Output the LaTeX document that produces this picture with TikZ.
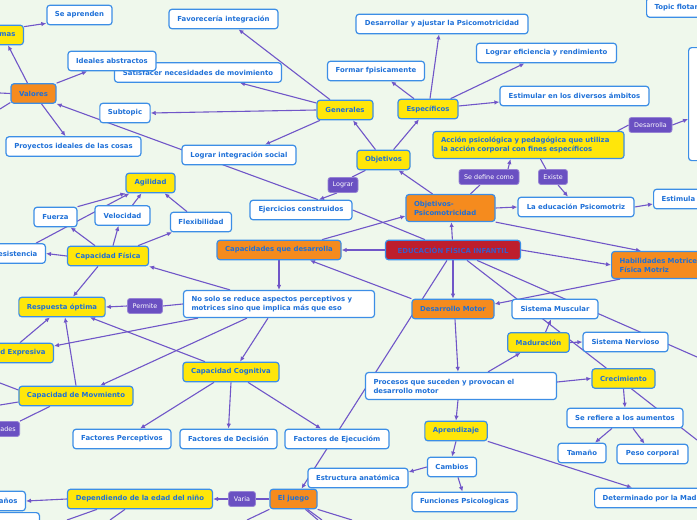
\documentclass[tikz,border=0pt]{standalone}
\usepackage{fontspec}
\setmainfont{DejaVu Sans}
\usetikzlibrary{arrows.meta}
\definecolor{mm_bg}{RGB}{239,248,236}
\definecolor{mm_blue}{RGB}{30,112,216}
\definecolor{mm_line}{RGB}{60,142,230}
\definecolor{mm_yellow}{RGB}{255,230,10}
\definecolor{mm_orange}{RGB}{245,139,30}
\definecolor{mm_red}{RGB}{190,30,45}
\definecolor{mm_redtext}{RGB}{58,90,200}
\definecolor{mm_purple}{RGB}{106,80,194}
\definecolor{mm_edge}{RGB}{112,86,200}
\pgfdeclarelayer{edgelayer}
\pgfsetlayers{edgelayer,main}
\tikzstyle{wn}=[rectangle,rounded corners=3pt,fill=white,draw=mm_line,line width=1.2pt,
  text=mm_blue,font=\fontsize{6.9}{9}\selectfont\bfseries,inner xsep=8pt,inner ysep=5pt,minimum height=19.5pt]
\tikzstyle{yn}=[wn,fill=mm_yellow]
\tikzstyle{orn}=[wn,fill=mm_orange]
\tikzstyle{cn}=[wn,fill=mm_red,text=mm_redtext]
\tikzstyle{pn}=[rectangle,rounded corners=2.5pt,fill=mm_purple,draw=mm_purple!70!white,line width=0.8pt,
  text=white,font=\fontsize{6.4}{8}\selectfont,inner xsep=4pt,inner ysep=2pt,minimum height=15pt]
\tikzstyle{none}=[]
\tikzstyle{arr}=[draw=mm_edge,line width=1.1pt,-{Latex[length=5pt,width=4.5pt]}]
\tikzstyle{ln}=[draw=mm_edge,line width=1.1pt]

\begin{document}
\begin{tikzpicture}[x=1pt,y=-1pt]
            \useasboundingbox (0,0) rectangle (697,520);
            \node [style=cn, minimum width=135pt] (0) at (453,250) {EDUCACIÓN FÍSICA INFANTIL};
            \node [style=orn, text width=73pt, align=left, minimum height=27pt] (1) at (450.5,208) {Objetivos-\\Psicomotricidad};
            \node [style=yn, minimum width=53pt] (2) at (383.5,160) {Objetivos};
            \node [style=yn, minimum width=56pt] (3) at (345,110) {Generales};
            \node [style=yn, minimum width=60pt] (4) at (428,109) {Específicos};
            \node [style=wn, minimum width=109pt] (5) at (223.5,19) {Favorecería integración};
            \node [style=wn, minimum width=167pt] (6) at (198,72.5) {Satisfacer necesidades de movimiento};
            \node [style=wn, minimum width=50pt] (7) at (125,113) {Subtopic};
            \node [style=wn, minimum width=114pt] (8) at (239,155) {Lograr integración social};
            \node [style=wn, minimum width=97pt] (9) at (376,71) {Formar fpisicamente};
            \node [style=wn, minimum width=172pt] (10) at (442,24) {Desarrollar y ajustar la Psicomotricidad};
            \node [style=wn, minimum width=140pt] (11) at (546.5,53) {Lograr eficiencia y rendimiento};
            \node [style=wn, minimum width=149pt] (12) at (574.5,96) {Estimular en los diversos ámbitos};
            \node [style=yn, text width=175pt, align=left, minimum height=27pt] (13) at (528.5,145) {Acción psicológica y pedagógica que utiliza\\la acción corporal con fines específicos};
            \node [style=wn, minimum width=116pt] (14) at (576,207) {La educación Psicomotriz};
            \node [style=wn, text width=64pt, align=left, anchor=west] (15) at (653,199) {Estimula};
            \node [style=wn, minimum width=60pt, minimum height=113pt, anchor=north west] (16) at (688,47) {};
            \node [style=wn, text width=70pt, align=left, anchor=west] (17) at (646,7.5) {Topic flotante};
            \node [style=orn, text width=100pt, align=left, minimum height=27pt, anchor=west] (18) at (611,265) {Habilidades Motrices\\Física Motriz};
            \node [style=orn, minimum width=124pt] (19) at (279,250) {Capacidades que desarrolla};
            \node [style=wn, minimum width=102pt] (20) at (301,210) {Ejercicios construidos};
            \node [style=orn, minimum width=45pt] (21) at (33.5,93.5) {Valores};
            \node [style=yn, text width=50pt, align=right, anchor=east] (22) at (24,35) {mas};
            \node [style=wn, minimum width=65pt] (23) at (79.5,15) {Se aprenden};
            \node [style=wn, minimum width=88pt] (24) at (112,61) {Ideales abstractos};
            \node [style=wn, minimum width=135pt] (25) at (73.5,146.5) {Proyectos ideales de las cosas};
            \node [style=wn, text width=175pt, align=left, minimum height=27pt] (26) at (279,304) {No solo se reduce aspectos perceptivos y\\motrices sino que implica más que eso};
            \node [style=yn, minimum width=86pt] (27) at (62,307) {Respuesta óptima};
            \node [style=yn, minimum width=80pt] (28) at (108,256) {Capacidad Física};
            \node [style=wn, anchor=east] (29) at (46,253.5) {Resistencia};
            \node [style=wn, minimum width=43pt] (30) at (55.5,217) {Fuerza};
            \node [style=wn, minimum width=55pt] (31) at (122.5,215.5) {Velocidad};
            \node [style=wn, minimum width=61pt] (32) at (201,222) {Flexibilidad};
            \node [style=yn, minimum width=49pt] (33) at (150.5,183) {Agilidad};
            \node [style=yn, anchor=east] (34) at (54,353) {Capacidad Expresiva};
            \node [style=yn, minimum width=114pt] (35) at (76,396) {Capacidad de Movmiento};
            \node [style=pn, text width=50pt, align=right, anchor=east] (36) at (20,429) {Habilidades};
            \node [style=yn, minimum width=96pt] (37) at (231,372) {Capacidad Cognitiva};
            \node [style=wn, minimum width=98pt] (38) at (122,439) {Factores Perceptivos};
            \node [style=wn, minimum width=97pt] (39) at (228.5,439) {Factores de Decisión};
            \node [style=wn, minimum width=104pt] (40) at (337,439) {Factores de Ejecucióm};
            \node [style=orn, minimum width=82pt] (41) at (453,309) {Desarrollo Motor};
            \node [style=wn, minimum width=86pt] (42) at (555,309) {Sistema Muscular};
            \node [style=yn, minimum width=61pt] (43) at (538.5,342.5) {Maduración};
            \node [style=wn, minimum width=85pt] (44) at (625.5,342) {Sistema Nervioso};
            \node [style=wn, text width=175pt, align=left, minimum height=27pt] (45) at (461,386) {Procesos que suceden y provocan el\\desarrollo motor};
            \node [style=yn, minimum width=63pt] (46) at (623.5,378.5) {Crecimiento};
            \node [style=wn, minimum width=116pt] (47) at (625,418) {Se refiere a los aumentos};
            \node [style=wn, minimum width=48pt] (48) at (582,453) {Tamaño};
            \node [style=wn, minimum width=71pt] (49) at (652.5,454) {Peso corporal};
            \node [style=yn, minimum width=62pt] (50) at (456,431) {Aprendizaje};
            \node [style=wn, minimum width=49pt] (51) at (452,467) {Cambios};
            \node [style=wn, minimum width=100pt] (52) at (358,478) {Estructura anatómica};
            \node [style=wn, minimum width=105pt] (53) at (464.5,502) {Funciones Psicologicas};
            \node [style=wn, text width=140pt, align=left, anchor=west] (54) at (594,498) {Determinado por la Maduración};
            \node [style=orn, minimum width=47pt] (55) at (293.5,499) {El juego};
            \node [style=yn, minimum width=145pt] (56) at (140,499) {Dependiendo de la edad del niño};
            \node [style=wn, text width=50pt, align=right, anchor=east] (57) at (26,501) {años};
            \node [style=wn, minimum width=70pt, anchor=north east] (58) at (40,512) {};
            \node [style=pn, minimum width=30pt] (60) at (343,185) {Lograr};
            \node [style=pn, minimum width=60pt] (61) at (489,177) {Se define como};
            \node [style=pn, minimum width=29pt] (62) at (553,177) {Existe};
            \node [style=pn, minimum width=43pt] (63) at (650.5,125) {Desarrolla};
            \node [style=pn, minimum width=35pt] (64) at (145,306) {Permite};
            \node [style=pn, minimum width=27pt] (65) at (242,499) {Varia};
            \node [style=none] (70) at (0,93) {};
            \node [style=none] (71) at (0,109) {};
            \node [style=none] (72) at (0,383) {};
            \node [style=none] (73) at (0,405) {};
            \node [style=none] (74) at (697,357) {};
            \node [style=none] (75) at (697,440) {};
            \node [style=none] (76) at (247,520) {};
            \node [style=none] (77) at (318,520) {};
            \node [style=none] (78) at (322,520) {};
            \node [style=none] (79) at (352,520) {};
            \node [style=none] (80) at (67,520) {};
            \node [style=none] (81) at (110,520) {};
            \begin{pgfonlayer}{edgelayer}
            \fill [mm_bg] (0,0) rectangle (697,520);
            \draw [style=arr] (0) to (19);
            \draw [style=arr] (0) to (1);
            \draw [style=arr] (0) to (41);
            \draw [style=arr] (0.east) to (18.west);
            \draw [style=ln] ([xshift=-28pt]0.north) to (20.east);
            \draw [style=arr] ([xshift=-6pt]0.south) to ([xshift=8pt]55.north);
            \draw [style=ln] ([xshift=14pt]0.south) to ([xshift=15pt]46.north west);
            \draw [style=ln] ([xshift=24pt]0.south) to (74.center);
            \draw [style=arr] ([xshift=43pt]19.north) to ([yshift=-8pt]1.west);
            \draw [style=arr] (1.south east) to ([xshift=30pt]18.north west);
            \draw [style=arr] (1.east) to (14.west);
            \draw [style=arr] ([xshift=-18pt]1.north) to ([xshift=15pt]2.south);
            \draw [style=ln] ([xshift=20pt]1.north) to ([xshift=-9pt]61.south);
            \draw [style=arr] ([xshift=19pt]61.north) to ([xshift=-18pt]13.south);
            \draw [style=ln] ([xshift=12pt]13.south) to ([xshift=-7pt]62.north);
            \draw [style=arr] ([xshift=5pt]62.south) to ([xshift=-8pt]14.north);
            \draw [style=ln] ([xshift=-7pt]13.north east) to (63.west);
            \draw [style=arr] (63.east) to ([yshift=-15pt]16.west);
            \draw [style=arr] (14.east) to ([yshift=-5pt]15.west);
            \draw [style=arr] ([xshift=-8pt]2.north) to ([xshift=8pt]3.south);
            \draw [style=arr] ([xshift=10pt]2.north) to ([xshift=-9pt]4.south);
            \draw [style=ln] ([xshift=-18pt]2.south) to ([xshift=9pt]60.north);
            \draw [style=arr] ([xshift=-6pt]60.south) to ([xshift=18pt]20.north);
            \draw [style=arr] ([xshift=-15pt]3.north) to ([xshift=15pt]5.south);
            \draw [style=arr] ([yshift=7pt]3.west) to ([xshift=42pt]6.south);
            \draw [style=arr] (3.west) to (7.east);
            \draw [style=arr] ([xshift=-25pt]3.south) to ([xshift=26pt]8.north);
            \draw [style=arr] ([xshift=-14pt]4.north) to ([xshift=15pt]9.south);
            \draw [style=arr] ([xshift=2pt]4.north) to ([xshift=-3pt]10.south);
            \draw [style=arr] ([xshift=-8pt]4.north east) to ([xshift=-22pt]11.south);
            \draw [style=arr] ([yshift=3pt]4.east) to ([yshift=-6pt]12.west);
            \draw [style=arr] ([xshift=17pt]20.north) to (21.south east);
            \draw [style=arr] ([xshift=-6pt]21.north) to ([xshift=-16pt]22.south east);
            \draw [style=arr] ([yshift=-2pt]22.north east) to ([yshift=2pt]23.south west);
            \draw [style=arr] (21.north east) to ([xshift=-25pt]24.south);
            \draw [style=arr] ([xshift=8pt]21.south) to ([xshift=-8pt]25.north);
            \draw [style=ln] (70.center) to (21.west);
            \draw [style=ln] (71.center) to ([yshift=-9pt]21.west);
            \draw [style=arr] (19.south) to (26.north);
            \draw [style=arr] (41.north west) to ([xshift=31pt]19.south);
            \draw [style=arr] ([xshift=9pt]18.south west) to ([yshift=5pt]41.east);
            \draw [style=ln] (26.west) to (64.east);
            \draw [style=arr] (64.west) to (27.east);
            \draw [style=arr] ([xshift=-49pt]26.north) to (28.south east);
            \draw [style=arr] ([xshift=-81pt]26.south) to ([yshift=7pt]34.east);
            \draw [style=arr] ([xshift=-32pt]26.south) to ([xshift=24pt]35.north);
            \draw [style=arr] ([xshift=-11pt]26.south) to ([xshift=9pt]37.north);
            \draw [style=arr] ([xshift=-26pt]37.north) to ([xshift=28pt]27.south);
            \draw [style=arr] (35.north) to ([xshift=3pt]27.south);
            \draw [style=arr] ([xshift=-34pt]34.north east) to ([xshift=-12pt]27.south);
            \draw [style=arr] ([xshift=-10pt]28.south) to ([xshift=11pt]27.north);
            \draw [style=arr] (28.west) to (29.east);
            \draw [style=arr] ([xshift=-13pt]28.north) to ([xshift=15pt]30.south);
            \draw [style=arr] ([xshift=5pt]28.north) to ([xshift=-4pt]31.south);
            \draw [style=arr] ([xshift=30pt]28.north) to ([xshift=-29pt]32.south);
            \draw [style=arr] (30.north east) to (33.south west);
            \draw [style=arr] ([xshift=-10pt]29.north east) to ([xshift=-21pt]33.south);
            \draw [style=arr] ([xshift=10pt]31.north) to ([xshift=-9pt]33.south);
            \draw [style=arr] ([xshift=-14pt]32.north) to ([xshift=14pt]33.south);
            \draw [style=arr] ([xshift=-17pt]37.south) to ([xshift=18pt]38.north);
            \draw [style=arr] (37.south) to (39.north);
            \draw [style=arr] ([xshift=17pt]37.south) to ([xshift=-16pt]40.north);
            \draw [style=ln] ([xshift=-26pt]35.south) to (36.north east);
            \draw [style=ln] (72.center) to ([yshift=6pt]35.west);
            \draw [style=ln] (73.center) to ([yshift=-6pt]35.west);
            \draw [style=arr] ([xshift=2pt]41.south) to ([xshift=-3pt]45.north);
            \draw [style=arr] ([xshift=27pt]45.north) to ([xshift=-18pt]43.south);
            \draw [style=arr] ([yshift=4pt]45.east) to (46.west);
            \draw [style=arr] ([xshift=-3pt]45.south) to (50.north);
            \draw [style=arr] ([xshift=7pt]43.north) to ([xshift=-4pt]42.south);
            \draw [style=arr] (43.east) to (44.west);
            \draw [style=arr] (46.south) to (47.north);
            \draw [style=ln] ([xshift=8pt]46.south) to (75.center);
            \draw [style=arr] ([xshift=-13pt]47.south) to ([xshift=13pt]48.north);
            \draw [style=arr] ([xshift=8pt]47.south) to ([xshift=-8pt]49.north);
            \draw [style=arr] (50.south) to (51.north);
            \draw [style=arr] (50.south east) to ([xshift=38pt]54.north west);
            \draw [style=arr] (51.west) to ([yshift=6pt]52.east);
            \draw [style=arr] ([xshift=6pt]51.south) to ([xshift=-2pt]53.north);
            \draw [style=ln] (55.west) to (65.east);
            \draw [style=arr] (65.west) to (56.east);
            \draw [style=arr] (56.west) to (57.east);
            \draw [style=ln] (55.south west) to (76.center);
            \draw [style=ln] ([xshift=12pt]55.south) to (77.center);
            \draw [style=ln] ([xshift=14pt]55.south) to (78.center);
            \draw [style=ln] (55.south east) to (79.center);
            \draw [style=ln] ([xshift=-43pt]56.south) to (80.center);
            \draw [style=ln] ([xshift=-15pt]56.south) to (81.center);
            \end{pgfonlayer}
\end{tikzpicture}
\end{document}
